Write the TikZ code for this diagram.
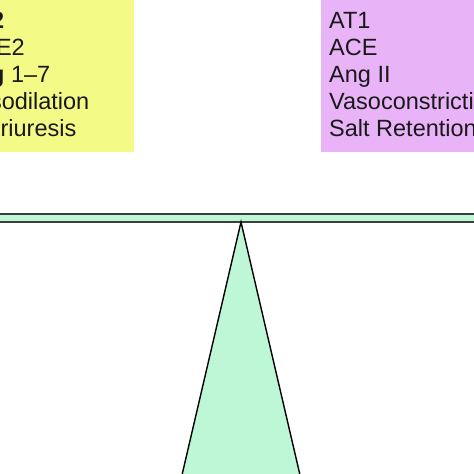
\documentclass[tikz,border=0pt]{standalone}
\usepackage{fontspec}
\setmainfont{Liberation Sans}
\definecolor{boxyellow}{HTML}{F4FA86}
\definecolor{boxpurple}{HTML}{E9B3F8}
\definecolor{beamgreen}{HTML}{BEF7D6}
\definecolor{edgegray}{HTML}{3A3F3C}
\tikzset{
  lbl/.style={inner sep=0pt, font=\fontsize{23.5}{27}\selectfont, text=black!90},
  scalepart/.style={draw=edgegray, line width=1.4pt, fill=beamgreen, line join=miter}
}
\begin{document}
\begin{tikzpicture}[x=1pt,y=-1pt]
\useasboundingbox (0,0) rectangle (474,474);
\clip (0,0) rectangle (474,474);
\fill[white] (0,0) rectangle (474,474);
% panels
\fill[boxyellow] (-10,-10) rectangle (134,152);
\fill[boxpurple] (321,-10) rectangle (484,152);
% left texts (cropped)
\node[lbl, anchor=base east] (l1) at (4.5,28) {\textbf{AT2}};
\node[lbl, anchor=base east] (l2) at (25,55) {ACE2};
\node[lbl, anchor=base east] (l3) at (50.5,82) {\textbf{Ang} 1–7};
\node[lbl, anchor=base east] (l4) at (89.5,109) {Vasodilation};
\node[lbl, anchor=base east] (l5) at (76.5,136) {\textbf{Nat}riuresis};
% right texts
\node[lbl, anchor=base west] (r1) at (329,28) {AT1};
\node[lbl, anchor=base west] (r2) at (329,55) {ACE};
\node[lbl, anchor=base west] (r3) at (329,82) {Ang II};
\node[lbl, anchor=base west] (r4) at (329,109) {Vasoconstriction};
\node[lbl, anchor=base west] (r5) at (329,136) {Salt Retention};
% beam
\draw[scalepart] (-10,214) rectangle (484,222);
% fulcrum
\coordinate (apex) at (241,222);
\coordinate (bl) at (182,475);
\coordinate (br) at (300,475);
\draw[scalepart, draw=black] (apex) -- (br) -- (bl) -- cycle;
\end{tikzpicture}
\end{document}
